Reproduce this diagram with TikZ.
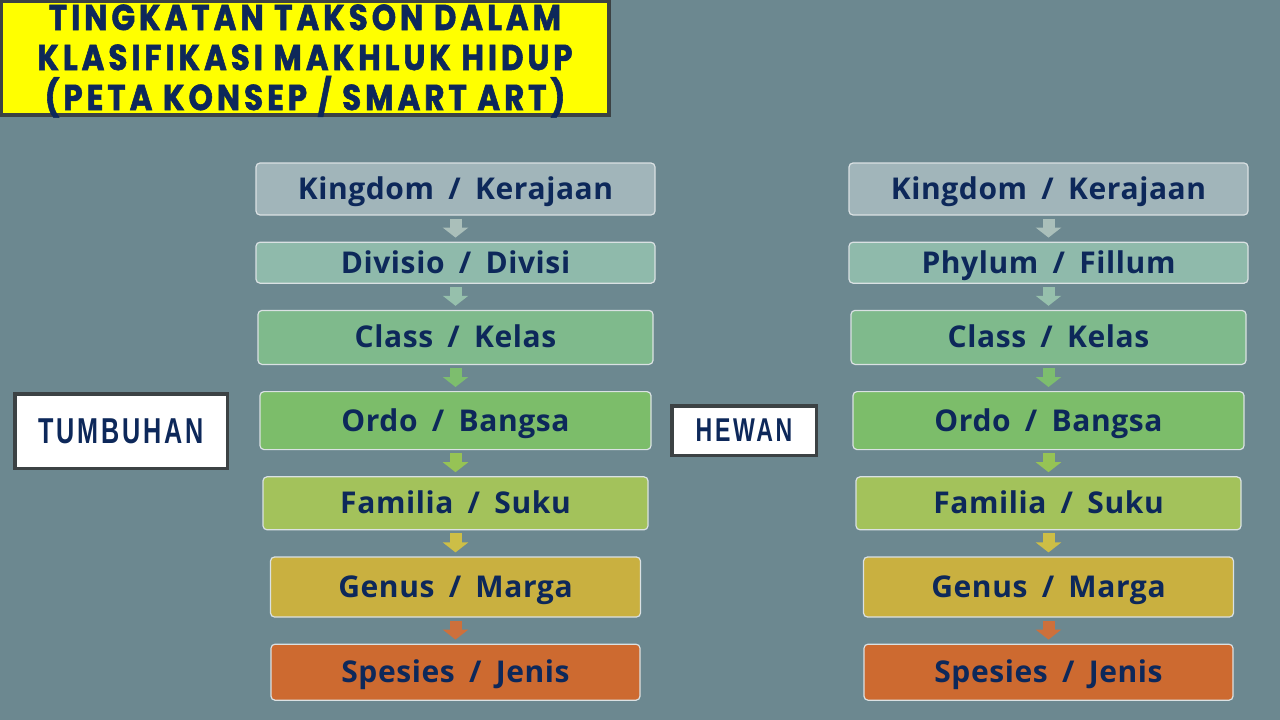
\documentclass[tikz,border=0pt]{standalone}
\usepackage{fontspec}
\usetikzlibrary{positioning, arrows.meta}
\newfontfamily\boxfont{Open Sans}[WordSpace=1.7, LetterSpace=2]
\newfontfamily\titlefont{Poppins}[FakeStretch=0.86, LetterSpace=11, FakeBold=1.5]
\newfontfamily\tagfont{Liberation Sans}[FakeStretch=0.7, LetterSpace=8]
\definecolor{bg}{RGB}{108,136,144}
\definecolor{ink}{RGB}{13,40,90}
\definecolor{frame}{RGB}{60,66,68}
\definecolor{titlefill}{RGB}{255,255,0}
\definecolor{kingdomfill}{RGB}{161,181,186}
\definecolor{divfill}{RGB}{143,186,171}
\definecolor{classfill}{RGB}{127,186,140}
\definecolor{ordofill}{RGB}{124,189,106}
\definecolor{famfill}{RGB}{163,194,91}
\definecolor{genusfill}{RGB}{201,176,64}
\definecolor{specfill}{RGB}{205,106,48}
\definecolor{arrA}{RGB}{170,191,186}
\definecolor{arrB}{RGB}{150,192,172}
\definecolor{arrC}{RGB}{125,190,110}
\definecolor{arrD}{RGB}{150,195,85}
\definecolor{arrE}{RGB}{205,190,70}
\definecolor{arrF}{RGB}{205,112,60}
\tikzset{
taxon/.style={rectangle, rounded corners=4pt, draw=white!75!bg, line width=1.2pt, inner sep=0pt, text height=21pt, text depth=0pt, text=ink, font={\boxfont\bfseries\fontsize{30}{30}\selectfont}}, % one rank box
flow/.style={line width=12pt, -{Triangle[width=25pt,length=10pt]}, shorten <=3pt, shorten >=4pt}, % block arrow between ranks
tag/.style={rectangle, draw=frame, line width=3.5pt, fill=white, inner sep=0pt, text=ink, font={\tagfont\bfseries\fontsize{36}{36}\selectfont}}, % white label box
titlebox/.style={rectangle, draw=frame, line width=4pt, fill=titlefill, inner sep=0pt},
titletext/.style={align=center, inner sep=0pt, text=ink, font={\titlefont\bfseries\fontsize{36}{40}\selectfont}},
node distance=26pt, % gap between the rank boxes
}
\begin{document}
\begin{tikzpicture}[x=1pt, y=-1pt]
\fill[bg] (0,0) rectangle (1280,720);
\useasboundingbox (0,0) rectangle (1280,720);

\node[titlebox, minimum width=608pt, minimum height=114pt] (title) at (305,58) {};
\node[titletext] (titletext) at (305,61) {TINGKATAN TAKSON DALAM\\KLASIFIKASI MAKHLUK HIDUP\\(PETA KONSEP / SMART ART)};

\node[tag, minimum width=212.5pt, minimum height=74.5pt] (plant) at (121,431) {TUMBUHAN};
\node[tag, minimum width=144.5pt, minimum height=49.5pt, font={\tagfont\bfseries\fontsize{33}{33}\selectfont}] (animal) at (744,430.5) {HEWAN};

% plants
\node[taxon, fill=kingdomfill, minimum width=399pt, minimum height=52pt] (lk) at (455.5,189) {Kingdom / Kerajaan};
\node[taxon, fill=divfill, minimum width=399pt, minimum height=41pt, below=of lk] (ld) {Divisio / Divisi};
\node[taxon, fill=classfill, minimum width=395pt, minimum height=54pt, below=of ld] (lc) {Class / Kelas};
\node[taxon, fill=ordofill, minimum width=391pt, minimum height=58pt, below=of lc] (lo) {Ordo / Bangsa};
\node[taxon, fill=famfill, minimum width=385pt, minimum height=53pt, below=of lo] (lf) {Familia / Suku};
\node[taxon, fill=genusfill, minimum width=370pt, minimum height=60pt, below=of lf] (lg) {Genus / Marga};
\node[taxon, fill=specfill, minimum width=369pt, minimum height=56pt, below=of lg] (ls) {Spesies / Jenis};

% animals
\node[taxon, fill=kingdomfill, minimum width=399pt, minimum height=52pt] (rk) at (1048.5,189) {Kingdom / Kerajaan};
\node[taxon, fill=divfill, minimum width=399pt, minimum height=41pt, below=of rk] (rd) {Phylum / Fillum};
\node[taxon, fill=classfill, minimum width=395pt, minimum height=54pt, below=of rd] (rc) {Class / Kelas};
\node[taxon, fill=ordofill, minimum width=391pt, minimum height=58pt, below=of rc] (ro) {Ordo / Bangsa};
\node[taxon, fill=famfill, minimum width=385pt, minimum height=53pt, below=of ro] (rf) {Familia / Suku};
\node[taxon, fill=genusfill, minimum width=370pt, minimum height=60pt, below=of rf] (rg) {Genus / Marga};
\node[taxon, fill=specfill, minimum width=369pt, minimum height=56pt, below=of rg] (rs) {Spesies / Jenis};

\foreach \a/\b/\c in {k/d/arrA, d/c/arrB, c/o/arrC, o/f/arrD, f/g/arrE, g/s/arrF}
  \foreach \side in {l,r}
    \draw[flow, \c] (\side\a.south) -- (\side\b.north);
\end{tikzpicture}
\end{document}
